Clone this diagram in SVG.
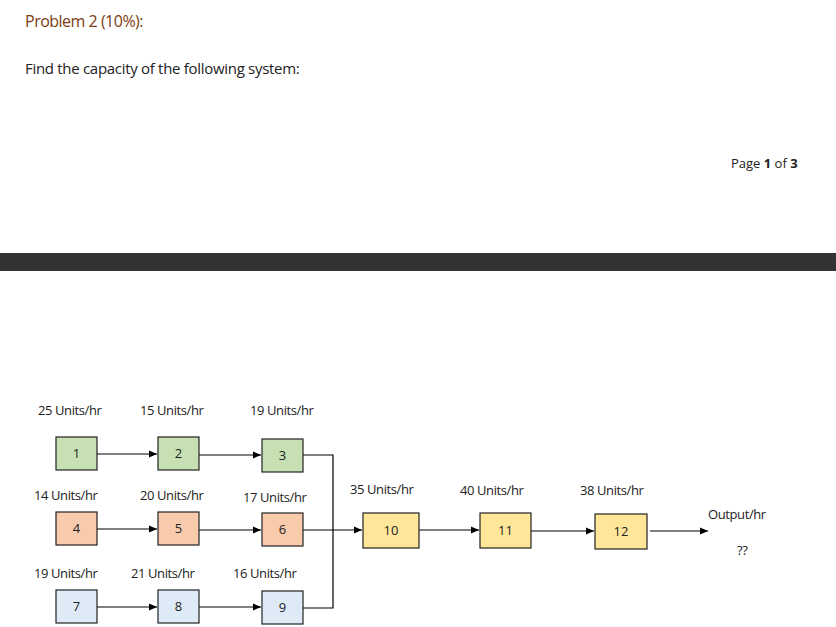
<svg xmlns="http://www.w3.org/2000/svg" width="836" height="627" viewBox="0 0 836 627">
<defs>
<marker id="ah" markerWidth="8" markerHeight="8" refX="8" refY="4" orient="auto" markerUnits="userSpaceOnUse"><path d="M0,0.5 L8,4 L0,7.5 Z" fill="#000"/></marker>
<style>
text{font-family:"Open Sans","Liberation Sans",sans-serif;fill:#222}
.lbl{font-size:13px;letter-spacing:-0.4px}
.num{font-size:13px;text-anchor:middle}
.b{stroke:#222;stroke-width:1.2}
.g{fill:#c6e0b4}.o{fill:#f8cbad}.bl{fill:#deebf7}.y{fill:#ffe699}
.c{stroke:#000;stroke-width:1.2;fill:none}
</style>
</defs>
<rect width="836" height="627" fill="#fff"/>
<text x="25" y="27" style="font-size:16px;fill:#7b3b13;letter-spacing:-0.5px">Problem 2 (10%):</text>
<text x="25" y="74" style="font-size:15px;letter-spacing:-0.3px">Find the capacity of the following system:</text>
<text x="731" y="168" style="font-size:13px">Page <tspan font-weight="bold">1</tspan> of <tspan font-weight="bold">3</tspan></text>
<rect x="0" y="253" width="836" height="18" fill="#333"/>
<g id="labels" class="lbl">
<text x="38" y="415">25 Units/hr</text><text x="140" y="415">15 Units/hr</text><text x="250" y="415">19 Units/hr</text>
<text x="34" y="500">14 Units/hr</text><text x="140" y="500">20 Units/hr</text><text x="243" y="502">17 Units/hr</text>
<text x="34" y="578">19 Units/hr</text><text x="131" y="578">21 Units/hr</text><text x="233" y="578">16 Units/hr</text>
<text x="350" y="494">35 Units/hr</text><text x="460" y="495">40 Units/hr</text><text x="580" y="495">38 Units/hr</text>
<text x="708" y="519">Output/hr</text><text x="737" y="555">??</text>
</g>
<g id="connectors">
<line class="c" x1="97" y1="454" x2="157" y2="454" marker-end="url(#ah)"/>
<line class="c" x1="199" y1="455" x2="261" y2="455" marker-end="url(#ah)"/>
<line class="c" x1="97" y1="529" x2="157" y2="529" marker-end="url(#ah)"/>
<line class="c" x1="199" y1="530" x2="261" y2="530" marker-end="url(#ah)"/>
<line class="c" x1="97" y1="607" x2="157" y2="607" marker-end="url(#ah)"/>
<line class="c" x1="199" y1="607" x2="261" y2="607" marker-end="url(#ah)"/>
<polyline class="c" points="303,455 333,455 333,608 303,608"/>
<line class="c" x1="303" y1="530" x2="362" y2="530" marker-end="url(#ah)"/>
<line class="c" x1="419" y1="530" x2="479" y2="530" marker-end="url(#ah)"/>
<line class="c" x1="531" y1="531" x2="594" y2="531" marker-end="url(#ah)"/>
<line class="c" x1="650" y1="531" x2="708" y2="531" marker-end="url(#ah)"/>
</g>
<g id="n1"><rect class="b g" x="56" y="437" width="41" height="33"/><text class="num" x="76.5" y="458">1</text></g>
<g id="n2"><rect class="b g" x="158" y="437" width="41" height="33"/><text class="num" x="178.5" y="458">2</text></g>
<g id="n3"><rect class="b g" x="262" y="439" width="41" height="33"/><text class="num" x="282.5" y="460">3</text></g>
<g id="n4"><rect class="b o" x="56" y="512" width="41" height="33"/><text class="num" x="76.5" y="533">4</text></g>
<g id="n5"><rect class="b o" x="158" y="512" width="41" height="33"/><text class="num" x="178.5" y="533">5</text></g>
<g id="n6"><rect class="b o" x="262" y="513" width="41" height="33"/><text class="num" x="282.5" y="534">6</text></g>
<g id="n7"><rect class="b bl" x="56" y="590" width="41" height="33"/><text class="num" x="76.5" y="611">7</text></g>
<g id="n8"><rect class="b bl" x="158" y="590" width="41" height="33"/><text class="num" x="178.5" y="611">8</text></g>
<g id="n9"><rect class="b bl" x="262" y="591" width="41" height="33"/><text class="num" x="282.5" y="612">9</text></g>
<g id="n10"><rect class="b y" x="363" y="513" width="56" height="35"/><text class="num" x="391" y="535">10</text></g>
<g id="n11"><rect class="b y" x="480" y="513" width="51" height="35"/><text class="num" x="505.5" y="535">11</text></g>
<g id="n12"><rect class="b y" x="595" y="514" width="52" height="35"/><text class="num" x="621" y="536">12</text></g>
</svg>
